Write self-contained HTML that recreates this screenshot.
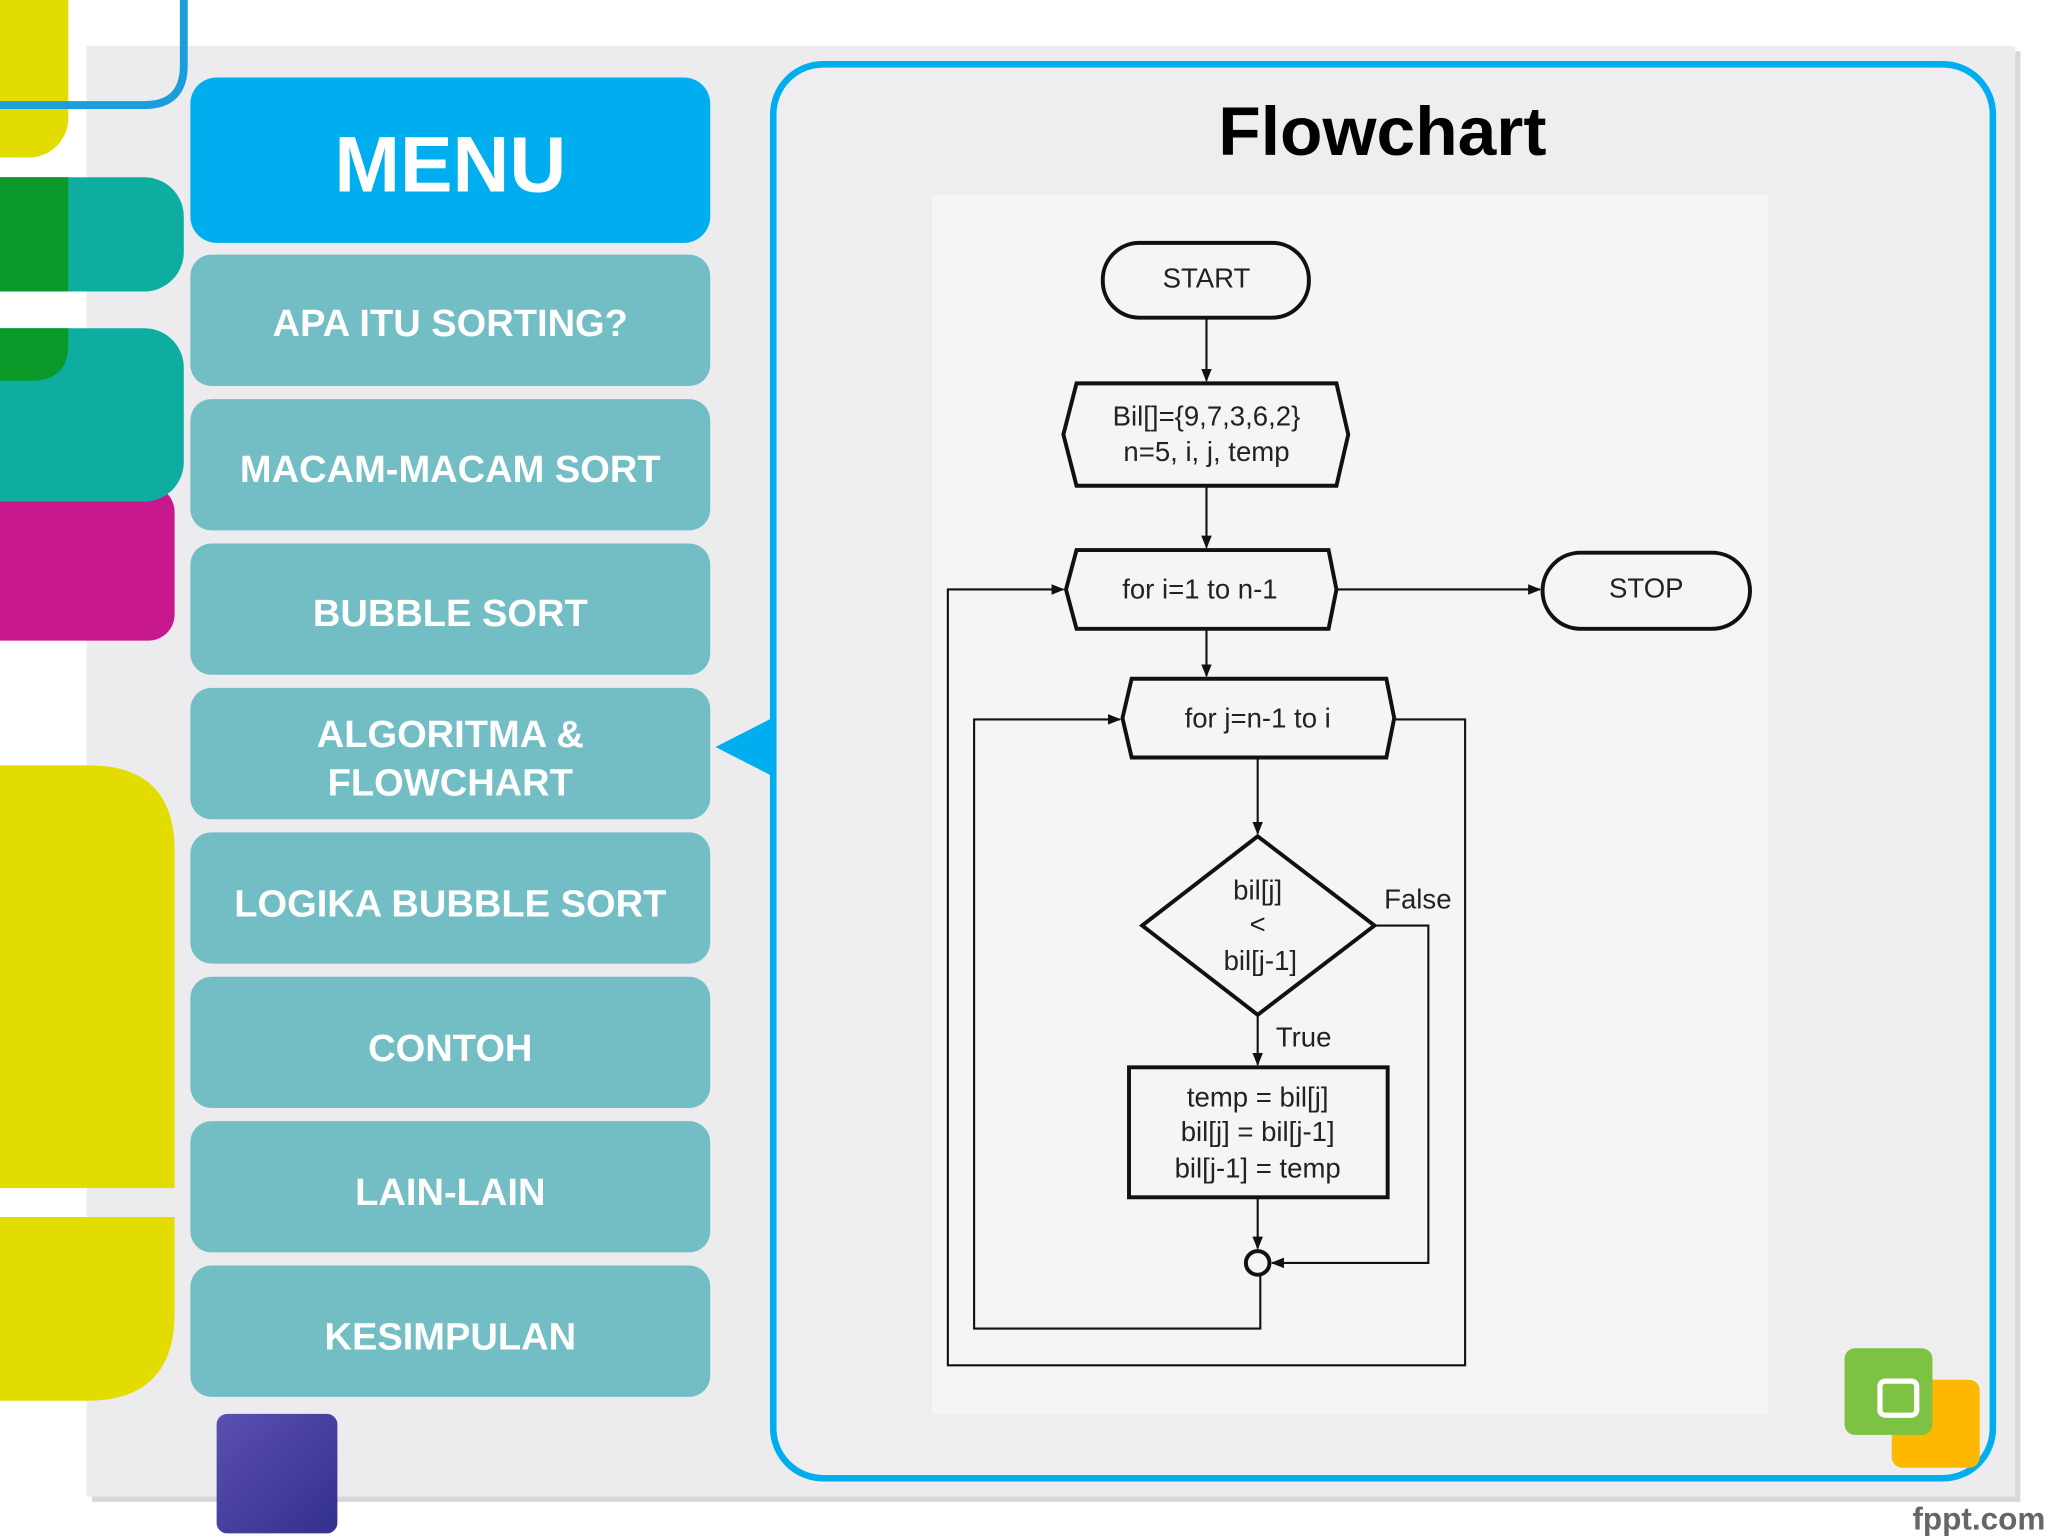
<!DOCTYPE html>
<html><head><meta charset="utf-8"><style>
html,body{margin:0;padding:0;background:#fff;}
svg{display:block;}
</style></head><body>
<svg width="2048" height="1536" viewBox="0 0 1560 1170" xmlns="http://www.w3.org/2000/svg">
<defs>
<linearGradient id="pg" x1="0" y1="0" x2="1" y2="1"><stop offset="0" stop-color="#5b4fb3"/><stop offset="1" stop-color="#33308e"/></linearGradient>
<marker id="ar" markerWidth="10" markerHeight="10" refX="9" refY="5" orient="auto" markerUnits="userSpaceOnUse"><path d="M0,1 L10,5 L0,9 z" fill="#111"/></marker>
</defs>
<rect width="1560" height="1170" fill="#fff"/>
<rect x="70" y="39" width="1469" height="1105" fill="#d8d8d8"/>
<rect x="66" y="35" width="1469" height="1105" fill="#ececee"/>
<rect x="-40" y="-40" width="92" height="160" rx="30" fill="#e3dc00"/>
<path d="M0,80 L110,80 Q140,80 140,50 L140,0" fill="none" stroke="#1a9fdc" stroke-width="6"/>
<rect x="-40" y="135" width="180" height="87" rx="30" fill="#0fada0"/>
<rect x="0" y="135" width="52" height="87" fill="#0a9a2a"/>
<rect x="-40" y="370" width="173" height="118" rx="20" fill="#c8188d"/>
<rect x="-40" y="250" width="180" height="132" rx="30" fill="#0fada0"/>
<path d="M0,250 L52,250 L52,262 Q52,290 24,290 L0,290 z" fill="#0a9a2a"/>
<path d="M0,583 L68,583 Q133,583 133,648 L133,905 L0,905 z" fill="#e3dc00"/>
<path d="M0,927 L133,927 L133,1000 Q133,1067 66,1067 L0,1067 z" fill="#e3dc00"/>
<rect x="145" y="59" width="396" height="126" rx="20" fill="#00aeef"/>
<text x="343" y="146" text-anchor="middle" font-family="Liberation Sans, sans-serif" font-weight="bold" font-size="60" fill="#fff">MENU</text>
<g font-family="Liberation Sans, sans-serif" font-weight="bold" font-size="29" fill="#fff" text-anchor="middle">
<rect x="145" y="194" width="396" height="100" rx="16" fill="#72bec4"/><text x="343" y="256">APA ITU SORTING?</text>
<rect x="145" y="304" width="396" height="100" rx="16" fill="#72bec4"/><text x="343" y="367">MACAM-MACAM SORT</text>
<rect x="145" y="414" width="396" height="100" rx="16" fill="#72bec4"/><text x="343" y="477">BUBBLE SORT</text>
<rect x="145" y="524" width="396" height="100" rx="16" fill="#72bec4"/><text x="343" y="569">ALGORITMA  &amp;</text><text x="343" y="606">FLOWCHART</text>
<rect x="145" y="634" width="396" height="100" rx="16" fill="#72bec4"/><text x="343" y="698">LOGIKA BUBBLE SORT</text>
<rect x="145" y="744" width="396" height="100" rx="16" fill="#72bec4"/><text x="343" y="808">CONTOH</text>
<rect x="145" y="854" width="396" height="100" rx="16" fill="#72bec4"/><text x="343" y="918">LAIN-LAIN</text>
<rect x="145" y="964" width="396" height="100" rx="16" fill="#72bec4"/><text x="343" y="1028">KESIMPULAN</text>
</g>
<path d="M545,569 L590,546 L590,592 z" fill="#00aeef"/>
<rect x="589" y="49" width="929" height="1077" rx="38" fill="#eeeef0" stroke="#00aeef" stroke-width="5"/>
<text x="928" y="118" font-family="Liberation Sans, sans-serif" font-weight="bold" font-size="52" textLength="250" lengthAdjust="spacingAndGlyphs" fill="#000">Flowchart</text>
<rect x="710" y="148" width="637" height="929" fill="#f5f5f6"/>
<g fill="none" stroke="#111" stroke-width="3">
<rect x="840" y="185" width="157" height="57" rx="28"/>
<path d="M820,292 L1018,292 L1027,331 L1018,370 L820,370 L810,331 z"/>
<path d="M820,419 L1012,419 L1018,449 L1012,479 L820,479 L812,449 z"/>
<rect x="1175" y="421" width="158" height="58" rx="29"/>
<path d="M862,517 L1056,517 L1062,547 L1056,577 L862,577 L855,547 z"/>
<path d="M958,637 L1047,705 L958,773 L870,705 z"/>
<rect x="860" y="813" width="197" height="99"/>
<circle cx="958" cy="962" r="9"/>
</g>
<g fill="none" stroke="#111" stroke-width="1.6">
<path d="M919,242 L919,290" marker-end="url(#ar)"/>
<path d="M919,370 L919,417" marker-end="url(#ar)"/>
<path d="M1018,449 L1173,449" marker-end="url(#ar)"/>
<path d="M919,479 L919,515" marker-end="url(#ar)"/>
<path d="M1062,548 L1116,548 L1116,1040 L722,1040 L722,449 L810,449" marker-end="url(#ar)"/>
<path d="M958,577 L958,635" marker-end="url(#ar)"/>
<path d="M1047,705 L1088,705 L1088,962 L969,962" marker-end="url(#ar)"/>
<path d="M958,773 L958,811" marker-end="url(#ar)"/>
<path d="M958,912 L958,951" marker-end="url(#ar)"/>
<path d="M960,971 L960,1012 L742,1012 L742,548 L853,548" marker-end="url(#ar)"/>
</g>
<g font-family="Liberation Sans Narrow, Liberation Sans, sans-serif" font-size="21" fill="#222" text-anchor="middle">
<text x="919" y="219">START</text>
<text x="919" y="324">Bil[]={9,7,3,6,2}</text>
<text x="919" y="351">n=5, i, j, temp</text>
<text x="914" y="456">for i=1 to n-1</text>
<text x="1254" y="455">STOP</text>
<text x="958" y="554">for j=n-1 to i</text>
<text x="958" y="685">bil[j]</text>
<text x="958" y="711">&lt;</text>
<text x="960" y="739">bil[j-1]</text>
<text x="1080" y="692">False</text>
<text x="993" y="797">True</text>
<text x="958" y="843">temp = bil[j]</text>
<text x="958" y="869">bil[j] = bil[j-1]</text>
<text x="958" y="897">bil[j-1] = temp</text>
</g>
<rect x="165" y="1077" width="92" height="91" rx="8" fill="url(#pg)"/>
<rect x="1441" y="1051" width="67" height="67" rx="8" fill="#ffb800"/>
<rect x="1405" y="1027" width="67" height="66" rx="8" fill="#7dc242"/>
<rect x="1432" y="1052" width="28" height="26" rx="4" fill="none" stroke="#fff" stroke-width="4"/>
<text x="1558" y="1165" text-anchor="end" font-family="Liberation Sans, sans-serif" font-weight="bold" font-size="24" fill="#666">fppt.com</text>
</svg>
</body></html>
